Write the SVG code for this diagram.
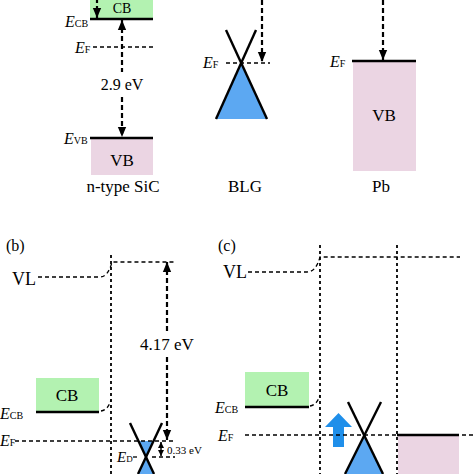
<svg xmlns="http://www.w3.org/2000/svg" width="474" height="474" viewBox="0 0 474 474">
<defs>
<marker id="ah" viewBox="0 0 12 10" refX="12" refY="5" markerWidth="10" markerHeight="12" markerUnits="userSpaceOnUse" orient="auto-start-reverse"><path d="M0,0 L12,5 L0,10 z" fill="#000"/></marker>
<marker id="ahs" viewBox="0 0 8 8" refX="8" refY="4" markerWidth="6" markerHeight="6" markerUnits="userSpaceOnUse" orient="auto-start-reverse"><path d="M0,0 L8,4 L0,8 z" fill="#000"/></marker>
<style>
text{font-family:"Liberation Serif","DejaVu Serif",serif;fill:#000}
.e{font-style:italic;font-size:16px}
.sub{font-size:10px}
.band{font-size:17px;text-anchor:middle}
.cap{font-size:17px;text-anchor:middle}
.lvl{stroke:#000;stroke-width:2.4;fill:none}
.ef{stroke:#000;stroke-width:1.3;stroke-dasharray:4 3;fill:none}
.dot{stroke:#000;stroke-width:1.8;stroke-dasharray:3 3;fill:none}
.arr{stroke:#000;stroke-width:2.2;stroke-dasharray:5 3;fill:none}
.cone{stroke:#000;stroke-width:2.4;fill:none}
.cb{fill:#b3f2b1}
.vb{fill:#ebd5e3}
.bl{fill:#5ca8f2}
</style>
</defs>

<g id="a-sic">
<rect class="cb" x="90" y="-5" width="63" height="24"/>
<line class="lvl" x1="90" y1="19" x2="153" y2="19"/>
<text x="122" y="13" font-size="14" text-anchor="middle">CB</text>
<text x="65" y="27"><tspan class="e">E</tspan><tspan class="sub">CB</tspan></text>
<line class="ef" x1="93" y1="47" x2="153" y2="47"/>
<text x="75" y="53"><tspan class="e">E</tspan><tspan class="sub">F</tspan></text>
<rect class="vb" x="91" y="139" width="62" height="36"/>
<line class="lvl" x1="90" y1="138" x2="153" y2="138"/>
<text class="band" x="122" y="166">VB</text>
<text x="64" y="144"><tspan class="e">E</tspan><tspan class="sub">VB</tspan></text>
<text class="cap" x="123" y="192">n-type SiC</text>
<text x="122" y="90" font-size="16" text-anchor="middle">2.9 eV</text>
</g>

<g id="a-blg">
<polygon class="bl" points="241,63 216,119 267,119"/>
<line class="cone" x1="226" y1="30" x2="267" y2="119"/>
<line class="cone" x1="256" y1="30" x2="216" y2="119"/>
<line class="ef" x1="226" y1="63" x2="270" y2="63"/>
<text x="203" y="68"><tspan class="e">E</tspan><tspan class="sub">F</tspan></text>
<text class="cap" x="245" y="192">BLG</text>
</g>

<g id="a-pb">
<rect class="vb" x="353" y="62" width="63" height="109"/>
<line class="lvl" x1="352" y1="61" x2="416" y2="61"/>
<text class="band" x="384" y="121">VB</text>
<text x="330" y="67"><tspan class="e">E</tspan><tspan class="sub">F</tspan></text>
<text class="cap" x="381" y="192">Pb</text>
</g>

<g id="b-panel">
<text x="6" y="251" font-size="16">(b)</text>
<text x="12" y="285" font-size="18">VL</text>
<rect class="cb" x="36" y="378" width="63" height="34"/>
<line class="lvl" x1="36" y1="412" x2="99" y2="412"/>
<text class="band" x="67" y="401">CB</text>
<text x="0" y="419"><tspan class="e">E</tspan><tspan class="sub">CB</tspan></text>
<text x="0" y="446"><tspan class="e">E</tspan><tspan class="sub">F</tspan></text>
<polygon class="bl" points="138.5,441 153.5,441 146,457"/>
<polygon class="bl" points="146,457 138,474 154,474"/>
<line class="cone" x1="130" y1="423" x2="154" y2="474"/>
<line class="cone" x1="162" y1="423" x2="138" y2="474"/>
<text x="117" y="462"><tspan font-style="italic" font-size="15">E</tspan><tspan font-size="9">D</tspan></text>
<text x="167" y="454" font-size="11">0.33 eV</text>
<text x="167" y="350" font-size="17" text-anchor="middle">4.17 eV</text>
</g>

<g id="c-panel">
<text x="218" y="251" font-size="16">(c)</text>
<text x="223" y="278" font-size="18">VL</text>
<rect class="cb" x="245" y="372" width="64" height="35"/>
<line class="lvl" x1="245" y1="407" x2="309" y2="407"/>
<text class="band" x="277" y="396">CB</text>
<text x="215" y="413"><tspan class="e">E</tspan><tspan class="sub">CB</tspan></text>
<text x="218" y="441"><tspan class="e">E</tspan><tspan class="sub">F</tspan></text>
<polygon points="333,447 344,447 344,427 352,427 338.5,413 325,427 333,427" fill="#1f8fea"/>
<polygon class="bl" points="364,435 345,474 383,474"/>
<line class="cone" x1="348" y1="402" x2="383" y2="474"/>
<line class="cone" x1="381" y1="402" x2="345" y2="474"/>
<rect class="vb" x="398" y="436" width="61" height="38"/>
<line class="lvl" x1="397" y1="435" x2="459" y2="435"/>
</g>

<g id="connectors">
<line class="arr" x1="97" y1="-2" x2="97" y2="18" marker-end="url(#ah)"/>
<line class="arr" x1="122" y1="20" x2="122" y2="72" marker-start="url(#ah)"/>
<line class="arr" x1="122" y1="97" x2="122" y2="137" marker-end="url(#ah)"/>
<line class="arr" x1="262" y1="0" x2="262" y2="62" marker-end="url(#ah)"/>
<line class="arr" x1="383" y1="0" x2="383" y2="60" marker-end="url(#ah)"/>
<path class="ef" d="M38,277 H100 Q108,277 112,262 H175"/>
<line class="dot" x1="111" y1="255" x2="111" y2="474"/>
<path class="ef" d="M101,411 Q108,410 111,400"/>
<line class="ef" x1="15" y1="441" x2="175" y2="441"/>
<line class="ef" x1="133" y1="457" x2="140" y2="457"/>
<line class="ef" x1="152" y1="457" x2="175" y2="457"/>
<line class="arr" x1="167" y1="262" x2="167" y2="332" marker-start="url(#ah)"/>
<line class="arr" x1="167" y1="357" x2="167" y2="440" marker-end="url(#ah)"/>
<line stroke="#000" stroke-width="1.5" x1="161" y1="442" x2="161" y2="456" marker-start="url(#ahs)" marker-end="url(#ahs)"/>
<path class="ef" d="M248,272 H307 Q316,272 320,257 H460"/>
<line class="dot" x1="320" y1="245" x2="320" y2="474"/>
<line class="dot" x1="397" y1="245" x2="397" y2="474"/>
<path class="ef" d="M310,406 Q317,405 320,395"/>
<line class="ef" x1="245" y1="435" x2="474" y2="435"/>
</g>
</svg>
